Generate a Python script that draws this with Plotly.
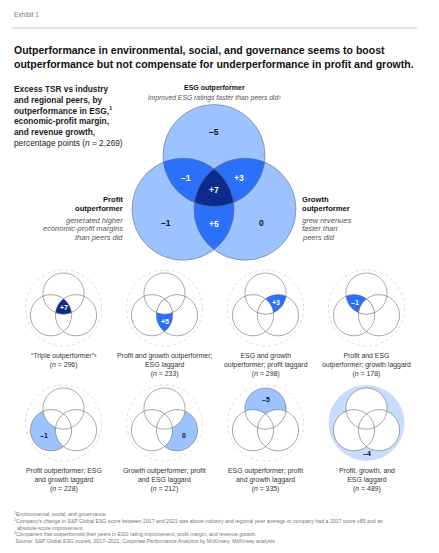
import numpy as np
import plotly.graph_objects as go

# ---- data ----
panel_sets = ["EPG", "PG", "EG", "EP", "P", "G", "E", ""]
panel_tsr = [7, 5, 3, -1, -1, 0, -5, -4]
panel_n = [296, 233, 298, 178, 228, 212, 335, 489]
panel_labels = [
    "\u201cTriple outperformer\u201d\u00b3",
    "Profit and growth outperformer;<br>ESG laggard",
    "ESG and growth<br>outperformer; profit laggard",
    "Profit and ESG<br>outperformer; growth laggard",
    "Profit outperformer; ESG<br>and growth laggard",
    "Growth outperformer; profit<br>and ESG laggard",
    "ESG outperformer; profit<br>and growth laggard",
    "Profit, growth, and<br>ESG laggard",
]
total_n = 2269

LIGHT = "#9cc3ff"
MID = "#2b70fb"
DARK = "#0d2b8e"
RING = "#c8dcff"
FONT = "Liberation Sans"

# page is 439x553 but the body has an 8px margin, so the figure is drawn
# in page pixel coordinates from 8 to W-8 / H-8
W, H, PAD = 439, 553, 8
shapes = []
annots = []


def centers(cx, cy, s):
    # E on top, P bottom-left, G bottom-right, (cx, cy) = centroid
    h = s * np.sqrt(3) / 2
    return {"E": (cx, cy - 2 * h / 3),
            "P": (cx - s / 2, cy + h / 3),
            "G": (cx + s / 2, cy + h / 3)}


def circle(c, r, fill="rgba(0,0,0,0)", line="#666", lw=0.8, dash="solid"):
    shapes.append(dict(type="circle", xref="x", yref="y",
                       x0=c[0] - r, x1=c[0] + r, y0=c[1] - r, y1=c[1] + r,
                       fillcolor=fill, line=dict(color=line, width=lw, dash=dash)))


def disk_intersection(cs, r, fill):
    # boundary of intersection of disks (convex), sampled from the circles
    pts = []
    t = np.linspace(0, 2 * np.pi, 720, endpoint=False)
    for i, c in enumerate(cs):
        xs = c[0] + r * np.cos(t)
        ys = c[1] + r * np.sin(t)
        ok = np.ones_like(xs, dtype=bool)
        for j, o in enumerate(cs):
            if j != i:
                ok &= (xs - o[0]) ** 2 + (ys - o[1]) ** 2 <= r * r + 1e-6
        pts += list(zip(xs[ok], ys[ok]))
    pts = np.array(pts)
    m = pts.mean(axis=0)
    ang = np.arctan2(pts[:, 1] - m[1], pts[:, 0] - m[0])
    pts = pts[np.argsort(ang)]
    path = "M " + " L ".join(f"{x:.2f},{y:.2f}" for x, y in pts) + " Z"
    shapes.append(dict(type="path", xref="x", yref="y", path=path,
                       fillcolor=fill, line=dict(width=0)))


# label offset of each region (in units of the circle spacing)
label_pos = {"E": (0, -0.95), "P": (-0.78, 0.51), "G": (0.76, 0.51),
             "EP": (-0.45, -0.21), "EG": (0.41, -0.21), "PG": (0, 0.53),
             "EPG": (0, -0.02), "": (0, 1.2)}


def fmt(v):
    if v > 0:
        return f"+{v}"
    if v < 0:
        return f"\u2013{abs(v)}"
    return "0"


def text(x, y, t, size=8, color="#222", bold=False, italic=False, xa="center", ya="middle"):
    if bold:
        t = f"<b>{t}</b>"
    if italic:
        t = f"<i>{t}</i>"
    annots.append(dict(x=x, y=y, xref="x", yref="y", text=t, showarrow=False,
                       xanchor=xa, yanchor=ya, align=xa if xa != "center" else "center",
                       font=dict(family=FONT, size=size, color=color)))


# ---- main venn ----
S, R = 62, 51
mcx, mcy = 214, 191.3
mc = centers(mcx, mcy, S)
for k in "EPG":
    circle(mc[k], R, fill=LIGHT, lw=0)
disk_intersection([mc["E"], mc["P"]], R, MID)
disk_intersection([mc["E"], mc["G"]], R, MID)
disk_intersection([mc["P"], mc["G"]], R, MID)
disk_intersection([mc["E"], mc["P"], mc["G"]], R, DARK)
for k in "EPG":
    circle(mc[k], R, line="#5f6f8c", lw=0.6)

for st, v in zip(panel_sets, panel_tsr):
    if st == "":
        continue
    dx, dy = label_pos[st]
    col = "white" if len(st) > 1 else "#111"
    text(mcx + dx * S, mcy + dy * S, fmt(v), size=8.5, color=col, bold=True)

# ---- small multiples ----
s, r = 25, 20.6
col_x = [63.5, 164.5, 265.5, 366.5]
row_y = [308, 423]
for i, (st, v, n, lab) in enumerate(zip(panel_sets, panel_tsr, panel_n, panel_labels)):
    cx, cy = col_x[i % 4], row_y[i // 4]
    c = centers(cx, cy, s)
    if st == "":
        circle((cx, cy), 38, fill=RING, lw=0)
        for k in "EPG":
            circle(c[k], r, fill="white", lw=0)
        tcol = "#111"
    else:
        circle((cx, cy), 38, line="#d4d4d4", lw=0.8, dash="dot")
        if len(st) == 3:
            disk_intersection([c[k] for k in st], r, DARK)
            tcol = "white"
        elif len(st) == 2:
            disk_intersection([c[k] for k in st], r, MID)
            disk_intersection([c["E"], c["P"], c["G"]], r, "white")
            tcol = "white"
        else:
            circle(c[st], r, fill=LIGHT, lw=0)
            for k in "EPG":
                if k != st:
                    disk_intersection([c[st], c[k]], r, "white")
            tcol = "#111"
    for k in "EPG":
        circle(c[k], r, line="#6d6d6d", lw=0.6)
    dx, dy = label_pos[st]
    text(cx + dx * s, cy + dy * s, fmt(v), size=7, color=tcol, bold=True)
    text(cx, cy + 41.5, f"{lab}<br>(<i>n</i> = {n})", size=6.9, color="#333", ya="top")

# ---- header / texts ----
text(12, 14, "Exhibit 1", size=6.5, color="#777", xa="left")
shapes.append(dict(type="line", xref="x", yref="y", x0=12, x1=417, y0=28, y1=28,
                   line=dict(color="#bdbdbd", width=0.8)))
text(12, 42, "Outperformance in environmental, social, and governance seems to boost<br>"
     "outperformance but not compensate for underperformance in profit and growth.",
     size=10.5, color="#111", bold=True, xa="left", ya="top")
text(12, 82, "<b>Excess TSR vs industry<br>and regional peers, by<br>outperformance in ESG,<sup>1</sup><br>"
     "economic-profit margin,<br>and revenue growth,</b><br>"
     f"percentage points (<i>n</i> = {total_n:,})",
     size=8.3, color="#222", xa="left", ya="top")

text(214, 88, "ESG outperformer", size=7, color="#111", bold=True)
text(214, 97.5, "improved ESG ratings faster than peers did\u00b2", size=6.8, color="#555", italic=True)

# side labels, one line at a time
side_bold = [["Profit", "outperformer"], ["Growth", "outperformer"]]
side_ital = [["generated higher", "economic-profit margins", "than peers did"],
             ["grew revenues", "faster than", "peers did"]]
for (sx, xa), bl, il in zip([(125, "right"), (300, "left")], side_bold, side_ital):
    for j, t in enumerate(bl):
        text(sx, 199 + 9.8 * j, t, size=7.6, color="#111", bold=True, xa=xa)
    for j, t in enumerate(il):
        text(sx, 220 + 8.6 * j, t, size=7.5, color="#555", italic=True, xa=xa)

text(12, 509, "<sup>1</sup>Environmental, social, and governance.<br>"
     "<sup>2</sup>Company\u2019s change in S&P Global ESG score between 2017 and 2021 was above industry and regional peer average or company had a 2017 score \u226585 and an<br>"
     "  absolute-score improvement.<br>"
     "<sup>3</sup>Companies that outperformed their peers in ESG rating improvement, profit margin, and revenue growth.<br>"
     " Source: S&P Global ESG scores, 2017\u20132021; Corporate Performance Analytics by McKinsey; McKinsey analysis",
     size=5.2, color="#777", xa="left", ya="top")

fig = go.Figure()
fig.update_layout(width=W - 2 * PAD, height=H - 2 * PAD, margin=dict(l=0, r=0, t=0, b=0),
                  plot_bgcolor="white", paper_bgcolor="white",
                  shapes=shapes, annotations=annots, showlegend=False)
fig.update_xaxes(range=[PAD, W - PAD], visible=False, fixedrange=True)
fig.update_yaxes(range=[H - PAD, PAD], visible=False, fixedrange=True)
fig.write_html("out.html")
